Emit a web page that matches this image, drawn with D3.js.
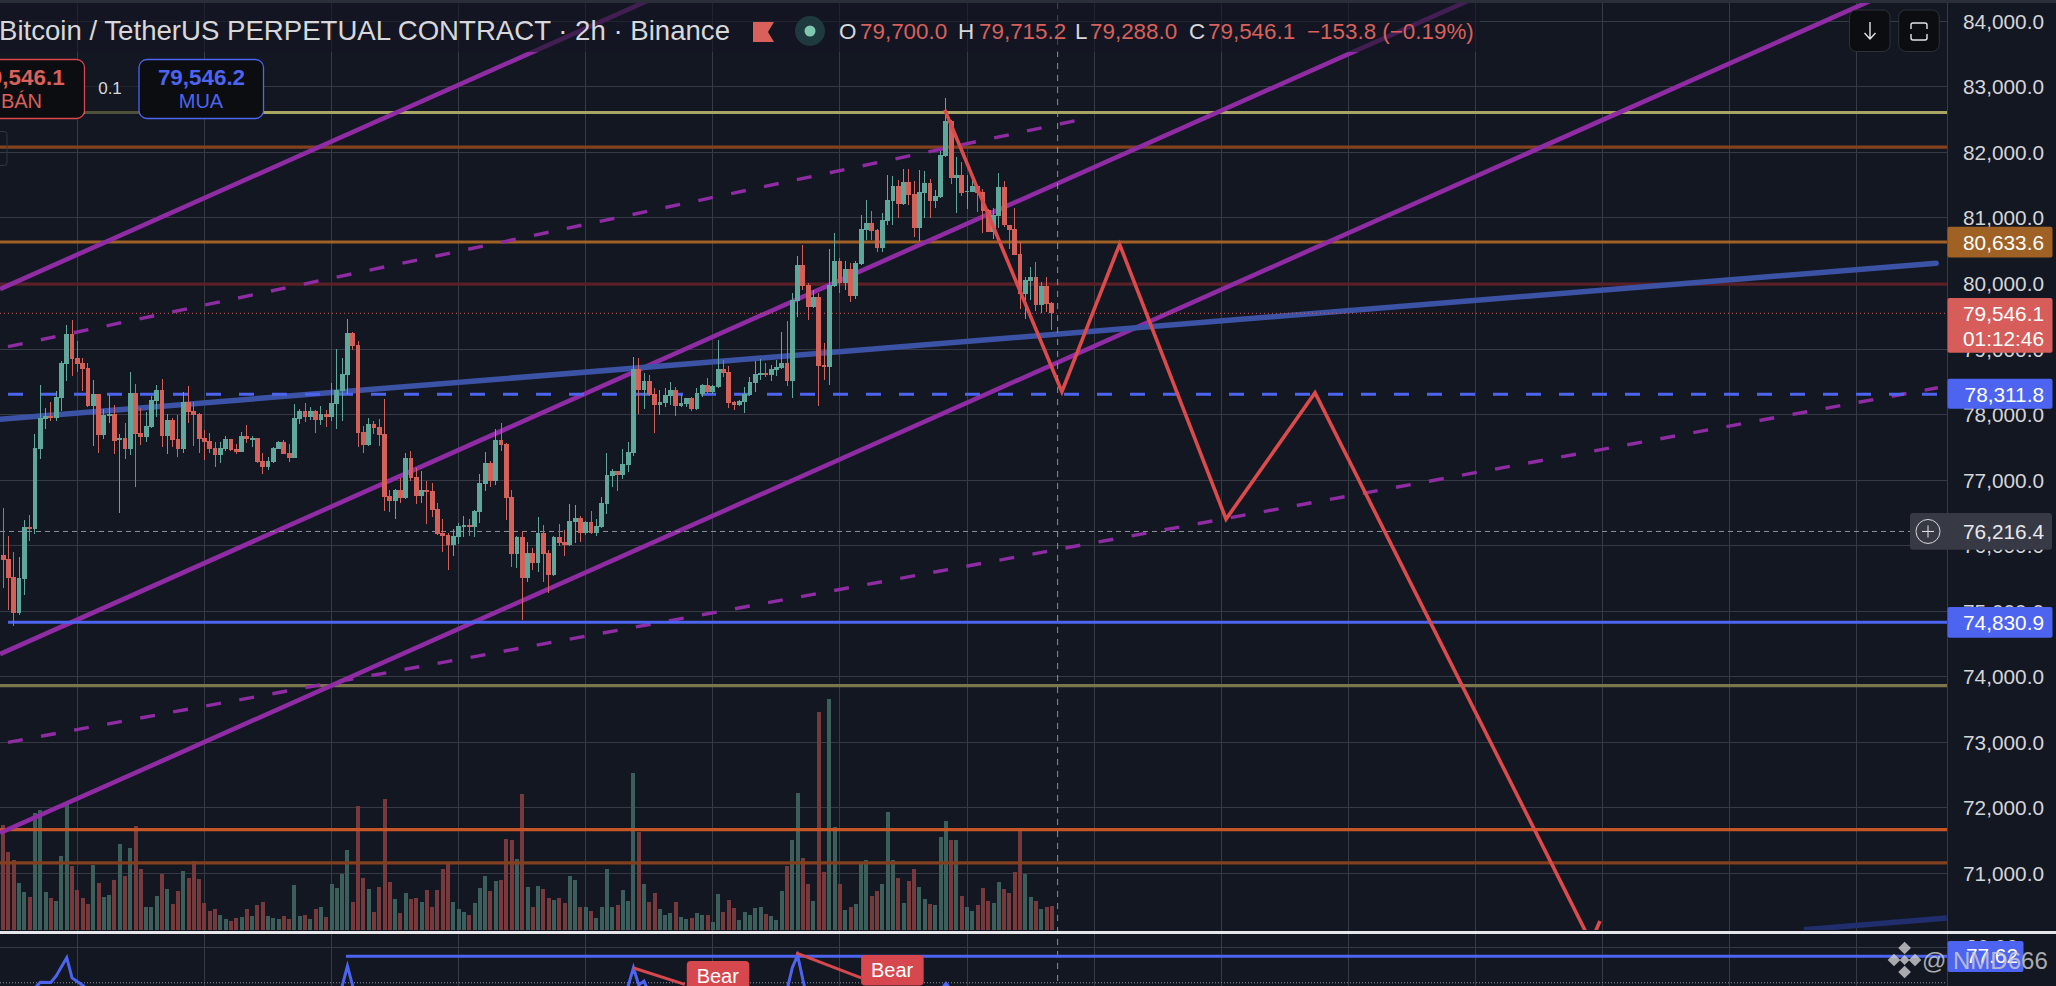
<!DOCTYPE html>
<html><head><meta charset="utf-8">
<script src="https://cdn.jsdelivr.net/npm/d3@7"></script>
<style>html,body{margin:0;padding:0;background:#131722;overflow:hidden}svg{display:block}text{font-family:"Liberation Sans",Arial,sans-serif}</style>
</head><body><svg id="c" width="2056" height="986"></svg>
<script>
const opens=[75855,75794,75514,74975,75494,76282,76257,77478,77936,77972,
77952,78257,78776,79229,78857,78781,78705,78130,78313,77692,
77982,78002,77606,77636,77478,78328,77712,77662,77814,78211,
78374,77677,77916,77621,77478,78191,78048,78002,77636,77590,
77483,77387,77473,77621,77468,77433,77672,77631,77636,77285,
77203,77275,77478,77575,77407,77341,77936,78048,77962,78048,
77921,78002,77967,78165,78364,78608,79244,79056,77733,77539,
77850,77809,77702,76751,76684,76842,76725,77336,77046,76756,
76847,76832,76557,76191,76155,76008,76130,76282,76313,76282,
76511,76939,77259,76985,77611,77550,76740,75870,76130,75504,
75885,75733,76191,75885,75550,76130,76053,76008,76359,76420,
76191,76359,76191,76282,76634,77061,77137,77076,77229,77412,
78695,78374,78511,78313,78145,78176,78282,78374,78130,78160,
78252,78084,78313,78450,78343,78420,78695,78649,78191,78145,
78191,78298,78481,78618,78633,78603,78679,78710,78786,78516,
79738,80282,79977,79641,79794,78756,78730,79967,80343,80013,
80221,79809,80298,80817,80923,80817,80542,80954,81259,81488,
81214,81549,81366,80847,81382,81534,81259,81320,81946,82481,
81610,81656,81402,81397,81488,81397,81122,80786,81030,81473,
80893,80832,80450,79840,80038,80099,79672,79962,79700];
const highs=[76567,76145,75901,75824,76389,76466,77702,78450,78099,78191,
78359,78812,79366,79443,79122,78857,78781,78527,78320,78084,
78298,78145,77702,77865,78649,78466,78099,78038,78282,78450,
78542,78002,77947,77992,78343,78435,78191,78023,77763,77717,
77580,77580,77672,77631,77550,77733,77840,77672,77645,77412,
77351,77504,77595,77611,77550,78160,78084,78176,78114,78069,
78130,78069,78481,79000,78863,79458,79259,79122,77824,77947,
77901,77931,78237,76847,76863,77030,77407,77443,77178,77137,
76985,76954,76649,76405,76186,76252,76343,76450,76405,76542,
77092,77427,77290,77779,77870,77565,76847,76140,76221,76053,
75962,76435,76313,75931,76140,76328,76237,76634,76618,76450,
76370,76527,76405,76740,77412,77168,77145,77473,77580,78878,
78863,78633,78603,78404,78374,78404,78496,78420,78298,78260,
78267,78404,78460,78557,78445,79137,78832,78740,78200,78221,
78420,78572,78817,78847,78786,78756,78832,79259,79427,79850,
80420,80588,80013,79901,79850,79086,80527,80766,80384,80343,
80308,80343,81046,81275,81107,80830,81076,81656,81641,81580,
81748,81748,81565,81733,81717,81595,81427,82023,82832,82500,
81931,81855,81656,81656,81504,81443,81137,81153,81687,81565,
80900,81153,80633,80099,80252,80328,80023,80099,79715.2];
const lows=[75351,75015,74776,74939,75244,76069,76176,77321,77779,77906,
77906,78048,78511,78588,78649,78359,78114,77519,77412,77626,
77865,77397,76501,77321,77382,76893,77534,77580,77800,77967,
77504,77397,77504,77351,77412,77870,77519,77412,77305,77412,
77198,77259,77443,77443,77397,77427,77565,77504,77259,77092,
77153,77259,77473,77397,77275,77336,77855,77885,77916,77717,
77840,77809,77901,77779,77901,78313,78985,77504,77412,77519,
77702,77519,76527,76511,76405,76644,76710,76985,76634,76649,
76328,76435,76160,75901,75626,75840,76023,76130,76145,76130,
76343,76832,76893,76924,77443,76389,75672,75656,74863,75443,
75626,75595,75443,75275,75534,75992,75840,76000,76038,76053,
76160,76180,76145,76267,76481,76893,76832,77015,77122,77366,
78008,78084,78282,77717,77992,78114,78145,77977,78114,78114,
78053,78069,78267,78328,78313,78404,78572,78099,78069,78130,
78023,78290,78343,78527,78572,78511,78588,78700,78435,78247,
79493,79901,79443,79630,78135,78527,78450,79951,79855,79901,
79722,79763,80282,80664,80664,80481,80481,80893,80893,81000,
81205,81198,80710,80649,81000,81000,81153,81305,81936,81519,
81076,81336,81137,81390,81091,80771,80780,80679,80847,80862,
80527,80430,79611,79458,79748,79580,79549,79565,79288];
const closes=[75779,75509,74975,75504,76277,76257,77483,77941,77977,77952,
78262,78781,79229,78847,78776,78700,78130,78313,77692,77987,
78002,77600,77636,77478,78328,77702,77662,77824,78216,78374,
77677,77916,77616,77478,78191,78043,77997,77631,77585,77478,
77387,77488,77621,77463,77433,77672,77631,77641,77275,77203,
77285,77483,77575,77402,77341,77947,78048,77967,78048,77921,
78002,77967,78170,78374,78613,79244,79051,77723,77539,77850,
77799,77692,76745,76684,76842,76730,77336,77036,76761,76847,
76822,76542,76176,76145,76008,76145,76298,76313,76282,76527,
76954,77259,76985,77611,77539,76725,75870,76130,75504,75885,
75733,76191,75870,75550,76130,76038,76008,76374,76420,76191,
76359,76191,76298,76649,77076,77137,77076,77244,77427,78695,
78374,78511,78298,78145,78191,78298,78374,78130,78176,78252,
78084,78328,78450,78343,78435,78695,78633,78176,78145,78206,
78313,78496,78618,78633,78618,78695,78725,78786,78511,79748,
80282,79967,79646,79789,78745,78740,79977,80343,80013,80221,
79809,80313,80832,80923,80801,80542,80969,81275,81488,81214,
81549,81351,80847,81397,81534,81259,81336,81962,82481,81610,
81656,81382,81412,81488,81382,81107,80786,81046,81473,80893,
80817,80435,79840,80053,80099,79672,79962,79687,79546.1];
const volumes=[315,234,210,141,114,99,350,360,114,96,87,222,382,192,120,96,78,195,141,99,
105,150,258,162,246,312,183,69,69,102,168,123,78,117,177,156,207,153,81,57,
63,45,33,27,36,39,63,42,75,84,42,36,33,42,33,135,42,45,33,63,
69,39,138,126,168,240,84,372,156,123,
54,129,393,144,93,51,111,93,96,84,120,69,120,183,201,84,63,54,45,81,
126,162,117,147,150,273,270,213,408,129,69,132,123,96,90,96,81,162,150,69,
69,57,36,69,183,69,75,120,87,471,294,138,84,111,63,45,51,84,39,33,
36,51,45,45,24,108,54,90,66,
30,54,45,66,69,48,42,30,117,192,270,411,216,138,87,654,174,693,309,138,
60,69,78,201,210,102,117,138,354,210,156,81,147,183,129,93,78,75,279,327,
270,270,102,69,57,75,126,87,81,144,123,111,174,300,168,99,87,63,69,72];

const priceTicks=[84000,83000,82000,81000,80000,79000,78000,77000,76000,75000,74000,73000,72000,71000];
const levelPrices=[82610,82080,80633.6,79990,73865,71665,71160];
const levelColors=["#a8a564","#83421e","#a06124","#5a2026","#7a764e","#c75626","#83401e"];
const channelLines=[[[-0.6,79916],[122.1,84330]],[[-0.6,74346],[278.9,84397]],[[-0.6,71615],[354.4,84381]]];
const dashedLines=[[[0.9,79036],[204,82511]],[[0.9,72999],[365.3,78410]]];
const blueTrend=[[-0.6,77928],[365,80309]];
const blueTrendLow=[[340,70139],[367,70318]];
const forecast=[[177.8,82649],[199.9,78348],[210.8,80598],[230.9,76405],[247.7,78333],[299.8,69950],[301.5,70272]];
const rsiIdx=[3,5,7,9,10,12,13,15,17,63,64,65,66,67,117,118,119,120,121,122,147,148,149,150,151,152,176,177,178,179,181];
const rsiVal=[65,68,71,70.9,72.6,77.3,72.1,70.2,68,66,70,75.1,70,66,66,70,74.7,70.3,71.3,68,65,69,74.7,77.9,71.6,66,65,69,70.7,69,65];
const bearLines=[[[118.9,74.7],[128.7,70.45]],[[149.7,78.5],[162,72.1]]];
const RSI_LEVEL=77.62, RSI_GRID=80, RSI_DOT=70.85;
const LAST=79546.1, ORANGE=80633.6, BLUE_D=78311.8, BLUE_S=74830.9, CROSS=76216.4, CROSS_IDX=199.1;

const W=2056,H=986,AX=1947,BG="#131722",GRID="#363a45",UP="#5fa79a",DN="#d4605a",VUP="#3c5f5c",VDN="#76393c",PUR="#8f2ca4",BL="#4d64f0",TXT="#d4d5d9",RED="#d9605b",AF=20.8;
const svg=d3.select("#c");
const x=d3.scaleLinear().domain([0,198]).range([3.2,3.2+198*5.296]);
const y=d3.scaleLinear().domain([84000,71000]).range([21.4,873.3]);
const yVol=d3.scaleLinear().domain([0,720]).range([930,690]);
const yRsi=d3.scaleLinear().domain([80,77.62]).range([947,956.3]);
const ln=d3.line().x(d=>x(d[0])).y(d=>y(d[1]));
const lnR=d3.line().x(d=>x(d[0])).y(d=>yRsi(d[1]));

const defs=svg.append("defs");
defs.append("clipPath").attr("id","m").append("rect").attr("x",0).attr("y",3).attr("width",AX).attr("height",927);
defs.append("clipPath").attr("id","r").append("rect").attr("x",0).attr("y",934).attr("width",AX).attr("height",52);

svg.append("rect").attr("width",W).attr("height",H).attr("fill",BG);
svg.append("rect").attr("width",W).attr("height",3).attr("fill","#2a2e39");

// grid
const gridIdx=d3.range(14,360,24);
const g=svg.append("g").attr("shape-rendering","crispEdges");
g.selectAll(".v").data(gridIdx).join("line").attr("x1",d=>x(d)).attr("x2",d=>x(d)).attr("y1",3).attr("y2",H).attr("stroke",GRID);
g.selectAll(".h").data(priceTicks).join("line").attr("x1",0).attr("x2",AX).attr("y1",d=>y(d)).attr("y2",d=>y(d)).attr("stroke",GRID);
g.append("line").attr("x1",0).attr("x2",AX).attr("y1",yRsi(RSI_GRID)).attr("y2",yRsi(RSI_GRID)).attr("stroke",GRID);
g.append("line").attr("x1",AX).attr("x2",AX).attr("y1",3).attr("y2",H).attr("stroke",GRID);

// volume
const idx=d3.range(opens.length);
svg.append("g").attr("shape-rendering","crispEdges").selectAll("rect").data(idx).join("rect")
 .attr("x",i=>x(i)-2).attr("width",4).attr("y",i=>yVol(volumes[i])).attr("height",i=>yVol(0)-yVol(volumes[i]))
 .attr("fill",i=>closes[i]>=opens[i]?VUP:VDN);

// lines
const main=svg.append("g").attr("clip-path","url(#m)");
main.selectAll(".lv").data(levelPrices).join("line").attr("x1",0).attr("x2",AX).attr("y1",d=>y(d)).attr("y2",d=>y(d))
 .attr("stroke",(d,i)=>levelColors[i]).attr("stroke-width",3.2);
main.selectAll(".ch").data(channelLines).join("path").attr("d",ln).attr("fill","none").attr("stroke",PUR).attr("stroke-width",4.6);
main.selectAll(".da").data(dashedLines).join("path").attr("d",ln).attr("fill","none").attr("stroke",PUR).attr("stroke-width",3.4).attr("stroke-dasharray","15 18.6");
main.append("path").attr("d",ln(blueTrend)).attr("fill","none").attr("stroke","#3c52a5").attr("stroke-width",5.5).attr("stroke-linecap","round");
main.append("path").attr("d",ln(blueTrendLow)).attr("fill","none").attr("stroke","#212e6e").attr("stroke-width",5.5);
main.append("line").attr("x1",8).attr("x2",1939).attr("y1",y(BLUE_D)).attr("y2",y(BLUE_D)).attr("stroke",BL).attr("stroke-width",3).attr("stroke-dasharray","15 18");
main.append("line").attr("x1",8).attr("x2",AX).attr("y1",y(BLUE_S)).attr("y2",y(BLUE_S)).attr("stroke",BL).attr("stroke-width",3);
main.append("line").attr("x1",0).attr("x2",AX).attr("y1",y(LAST)).attr("y2",y(LAST)).attr("stroke",DN).attr("stroke-dasharray","1 3");
main.append("line").attr("x1",0).attr("x2",AX).attr("y1",y(CROSS)).attr("y2",y(CROSS)).attr("stroke","#8f9199").attr("stroke-dasharray","5 4");

// candles
const cg=svg.append("g").attr("shape-rendering","crispEdges");
cg.selectAll(".w").data(idx).join("line").attr("x1",i=>x(i)).attr("x2",i=>x(i)).attr("y1",i=>y(highs[i])).attr("y2",i=>y(lows[i]))
 .attr("stroke",i=>closes[i]>=opens[i]?UP:DN);
cg.selectAll(".b").data(idx).join("rect").attr("x",i=>x(i)-2.4).attr("width",4.8)
 .attr("y",i=>y(Math.max(opens[i],closes[i]))).attr("height",i=>Math.max(1.5,Math.abs(y(opens[i])-y(closes[i]))))
 .attr("fill",i=>closes[i]>=opens[i]?UP:DN);

// forecast
svg.append("g").attr("clip-path","url(#m)").append("path").attr("d",ln(forecast)).attr("fill","none").attr("stroke","#dd4a4c").attr("stroke-width",3.6).attr("stroke-linejoin","miter");

// crosshair vertical
svg.append("line").attr("x1",x(CROSS_IDX)).attr("x2",x(CROSS_IDX)).attr("y1",3).attr("y2",H).attr("stroke","#8f9199").attr("stroke-dasharray","6 6");

// legend veil
svg.append("rect").attr("x",0).attr("y",3).attr("width",1480).attr("height",49).attr("fill",BG).attr("opacity",.62);
svg.append("rect").attr("x",85).attr("y",59).attr("width",54).attr("height",60).attr("fill",BG).attr("opacity",.6);

// pane separator
svg.append("rect").attr("x",0).attr("y",931).attr("width",W).attr("height",3).attr("fill","#e6e6ea");

// lower pane
const low=svg.append("g").attr("clip-path","url(#r)");
low.append("line").attr("x1",0).attr("x2",AX).attr("y1",yRsi(RSI_DOT)).attr("y2",yRsi(RSI_DOT)).attr("stroke","#8a8f9a").attr("stroke-dasharray","1 2");
low.append("line").attr("x1",x(65)-1.5).attr("x2",AX).attr("y1",yRsi(RSI_LEVEL)).attr("y2",yRsi(RSI_LEVEL)).attr("stroke",BL).attr("stroke-width",3);
low.append("path").attr("d",lnR(rsiIdx.map((d,i)=>[d,rsiVal[i]]))).attr("fill","none").attr("stroke",BL).attr("stroke-width",3);
low.selectAll(".bl").data(bearLines).join("path").attr("d",lnR).attr("fill","none").attr("stroke","#d6484e").attr("stroke-width",3);
bearLines.forEach((l,k)=>{
 const bx=x(l[1][0])+(k==0?2:0), by=k==0?961:955;
 low.append("rect").attr("x",bx).attr("y",by).attr("width",62.5).attr("height",k==0?32:30.5).attr("rx",4).attr("fill","#d6484e");
 low.append("text").attr("x",bx+31).attr("y",by+22).attr("text-anchor","middle").attr("fill","#fff").attr("font-size",20).text("Bear");
});

// price axis
const fmt=d3.format(",.1f");
svg.append("g").selectAll("text").data(priceTicks).join("text").attr("x",2044).attr("y",d=>y(d)+7.5).attr("text-anchor","end").attr("fill",TXT).attr("font-size",AF).text(d=>fmt(d));
svg.append("text").attr("x",2018).attr("y",954).attr("text-anchor","end").attr("fill",TXT).attr("font-size",AF).text("80.00");
function tag(p,h,fill,lines){
 const top=y(p)-15.3;
 svg.append("rect").attr("x",AX+.5).attr("y",top).attr("width",105).attr("height",h).attr("rx",2).attr("fill",fill);
 lines.forEach((t,i)=>svg.append("text").attr("x",2044).attr("y",top+23+i*(h>40?25:0)).attr("text-anchor","end").attr("fill","#fff").attr("font-size",AF).text(t));
}
tag(ORANGE,30.7,"#a06124",[fmt(ORANGE)]);
tag(LAST,54.7,"#d65d59",[fmt(LAST),"01:12:46"]);
tag(BLUE_D,30,BL,[fmt(BLUE_D)]);
tag(BLUE_S,30.7,BL,[fmt(BLUE_S)]);
// crosshair tag
const cy=y(CROSS);
svg.append("rect").attr("x",1910).attr("y",cy-18.4).attr("width",142).attr("height",36.7).attr("rx",3).attr("fill","#373a44");
svg.append("circle").attr("cx",1928).attr("cy",cy).attr("r",12).attr("fill","none").attr("stroke","#d8d8dc").attr("stroke-width",1);
svg.append("path").attr("d",`M1922 ${cy}H1934M1928 ${cy-6}V${cy+6}`).attr("stroke","#e8e8ec");
svg.append("text").attr("x",2044).attr("y",cy+7.5).attr("text-anchor","end").attr("fill","#e8e8ec").attr("font-size",AF).text(fmt(CROSS));
// rsi tag
svg.append("rect").attr("x",AX+.5).attr("y",941).attr("width",76).attr("height",31).attr("rx",2).attr("fill",BL);
svg.append("text").attr("x",2018).attr("y",963).attr("text-anchor","end").attr("fill","#fff").attr("font-size",AF).text(RSI_LEVEL.toFixed(2));

// watermark
const wm=svg.append("g").attr("fill","#cfcfd2").attr("opacity",.8);
[[1904.6,948,4.5],[1894,960,4.5],[1915,960,4.5],[1904.6,972,4.5],[1904.6,960,3.5]].forEach(a=>wm.append("rect").attr("x",a[0]-a[2]).attr("y",a[1]-a[2]).attr("width",2*a[2]).attr("height",2*a[2]).attr("transform",`rotate(45 ${a[0]} ${a[1]})`));
wm.append("text").attr("x",1922).attr("y",969).attr("font-size",24).text("@ NMD666");

// legend text
svg.append("text").attr("x",-1).attr("y",40).attr("fill","#d8d8da").attr("font-size",27.6).text("Bitcoin / TetherUS PERPETUAL CONTRACT · 2h · Binance");
svg.append("path").attr("d","M753 22H774L768 32L774 42H753Z").attr("fill","#d9605b");
svg.append("circle").attr("cx",810).attr("cy",31).attr("r",15).attr("fill","#1f3a3e");
svg.append("circle").attr("cx",810).attr("cy",31).attr("r",5.5).attr("fill","#7ec8b0");
const lg=[["O",839,"#d8d8da"],["79,700.0",860,RED],["H",958,"#d8d8da"],["79,715.2",979,RED],["L",1075,"#d8d8da"],["79,288.0",1090,RED],["C",1189,"#d8d8da"],["79,546.1",1208,RED],["−153.8 (−0.19%)",1307,RED]];
svg.append("g").selectAll("text").data(lg).join("text").attr("x",d=>d[1]).attr("y",39).attr("fill",d=>d[2]).attr("font-size",22.4).text(d=>d[0]);

// buy sell
function tb(x0,w,st,col,big,small,cx,cs){
 svg.append("rect").attr("x",x0).attr("y",59.5).attr("width",w).attr("height",59).attr("rx",8).attr("fill","#0c0d10").attr("stroke",st).attr("stroke-width",1.3);
 svg.append("text").attr("x",cx).attr("y",85).attr("text-anchor","middle").attr("fill",col).attr("font-size",22.4).attr("font-weight",600).text(big);
 svg.append("text").attr("x",cs).attr("y",108).attr("text-anchor","middle").attr("fill",col).attr("font-size",20).text(small);
}
tb(-30,114.5,"#d9474c",RED,"79,546.1","BÁN",21,21.5);
tb(139,124.5,"#4d64f0","#4d64f0","79,546.2","MUA",201.5,201);
svg.append("text").attr("x",110).attr("y",94).attr("text-anchor","middle").attr("fill","#d8d8da").attr("font-size",17).text("0.1");
svg.append("rect").attr("x",-8).attr("y",131.5).attr("width",15).attr("height",34).attr("rx",3).attr("fill","none").attr("stroke","#33363f");

// buttons
[[1849.5],[1898.7]].forEach(b=>svg.append("rect").attr("x",b[0]).attr("y",10).attr("width",40.5).attr("height",41.5).attr("rx",7).attr("fill","#0c0d10").attr("stroke","#2e3038"));
svg.append("path").attr("d","M1870 22V38M1864.5 33L1870 39L1875.5 33").attr("fill","none").attr("stroke","#e4e4e8").attr("stroke-width",1.4);
svg.append("path").attr("d","M1911 29V25Q1911 23 1913 23H1925Q1927 23 1927 25V29M1911 34V38Q1911 40 1913 40H1925Q1927 40 1927 38V34M1911 31.5").attr("fill","none").attr("stroke","#e4e4e8").attr("stroke-width",1.4);
</script></body></html>
